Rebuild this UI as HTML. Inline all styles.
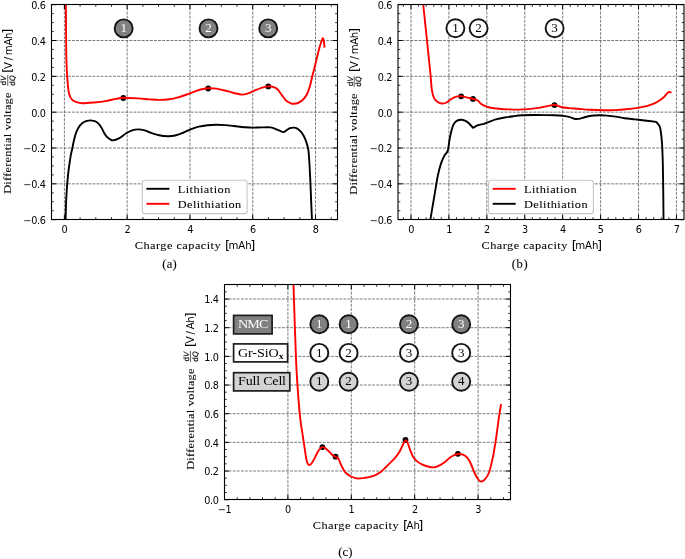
<!DOCTYPE html>
<html lang="en">
<head>
<meta charset="utf-8">
<title>Differential voltage analysis</title>
<style>
html,body{margin:0;padding:0;background:#fff;}
body{width:685px;height:559px;overflow:hidden;}
svg text{white-space:pre;}
</style>
</head>
<body>
<svg width="685" height="559" viewBox="0 0 685 559" style="display:block">
<rect width="685" height="559" fill="#fff"/>
<defs><clipPath id="c1"><rect x="51.5" y="4.5" width="286" height="215"/></clipPath><clipPath id="c2"><rect x="398" y="4.5" width="286" height="215"/></clipPath><clipPath id="c3"><rect x="224.5" y="284.5" width="286" height="215"/></clipPath></defs>
<g id="plot-a">
<path d="M64.4 219.5V4.5M127.18 219.5V4.5M189.96 219.5V4.5M252.74 219.5V4.5M315.52 219.5V4.5M51.5 183.84H337.5M51.5 148H337.5M51.5 112.17H337.5M51.5 76.34H337.5M51.5 40.5H337.5" fill="none" stroke="#626262" stroke-width="0.85" stroke-dasharray="2.85 1.25"/>
<g clip-path="url(#c1)" fill="none" stroke-linejoin="round" stroke-linecap="butt">
<path d="M65.2 240C65.27 236.47 65.4 226.17 65.6 218.8C65.8 211.43 65.98 203.2 66.4 195.8C66.82 188.4 67.4 180.98 68.1 174.4C68.8 167.82 69.95 160.4 70.6 156.3C71.25 152.2 71.58 151.8 72 149.8C72.42 147.8 72.67 146.32 73.1 144.3C73.53 142.28 74.05 139.77 74.6 137.7C75.15 135.63 75.73 133.6 76.4 131.9C77.07 130.2 77.8 128.78 78.6 127.5C79.4 126.22 80.28 125.12 81.2 124.2C82.12 123.28 83.13 122.55 84.1 122C85.07 121.45 85.97 121.17 87 120.9C88.03 120.63 89.2 120.4 90.3 120.4C91.4 120.4 92.57 120.63 93.6 120.9C94.63 121.17 95.53 121.38 96.5 122C97.47 122.62 98.48 123.5 99.4 124.6C100.32 125.7 101.2 127.2 102 128.6C102.8 130 103.42 131.67 104.2 133C104.98 134.33 105.73 135.57 106.7 136.6C107.67 137.63 108.95 138.57 110 139.2C111.05 139.83 111.52 140.53 113 140.4C114.48 140.27 116.7 139.58 118.9 138.4C121.1 137.22 124 134.63 126.2 133.3C128.4 131.97 130.13 131.05 132.1 130.4C134.07 129.75 136.05 129.45 138 129.4C139.95 129.35 142 129.67 143.8 130.1C145.6 130.53 146.25 131.15 148.8 132C151.35 132.85 155.92 134.5 159.1 135.2C162.28 135.9 165.22 136.15 167.9 136.2C170.58 136.25 172.77 136.03 175.2 135.5C177.63 134.97 180.05 133.98 182.5 133C184.95 132.02 187.2 130.65 189.9 129.6C192.6 128.55 195.78 127.43 198.7 126.7C201.62 125.97 204.48 125.53 207.4 125.2C210.32 124.87 213.27 124.72 216.2 124.7C219.13 124.68 222.07 124.88 225 125.1C227.93 125.32 230.67 125.65 233.8 126C236.93 126.35 242.13 127 243.8 127.2C245.27 127.27 249.67 127.57 252.6 127.6C255.53 127.63 258.47 127.43 261.4 127.4C264.33 127.37 268 127.2 270.2 127.4C272.4 127.6 273.13 128.1 274.6 128.6C276.07 129.1 277.48 129.82 279 130.4C280.52 130.98 282.48 132.1 283.7 132.1C284.92 132.1 285.25 131.05 286.3 130.4C287.35 129.75 288.77 128.67 290 128.2C291.23 127.73 292.48 127.53 293.7 127.6C294.92 127.67 296.08 127.9 297.3 128.6C298.52 129.3 299.9 130.53 301 131.8C302.1 133.07 303.05 134.6 303.9 136.2C304.75 137.8 305.37 139.15 306.1 141.4C306.83 143.65 307.75 146.12 308.3 149.7C308.85 153.28 309.05 157.42 309.4 162.9C309.75 168.38 310.1 176.02 310.4 182.6C310.7 189.18 310.95 196.37 311.2 202.4C311.45 208.43 311.67 212.53 311.9 218.8C312.13 225.07 312.48 236.47 312.6 240" stroke="#000" stroke-width="1.9"/>
<circle cx="123.3" cy="98" r="2.9" fill="#000" stroke="none"/>
<circle cx="208.2" cy="88.5" r="2.9" fill="#000" stroke="none"/>
<circle cx="268.3" cy="86.4" r="2.9" fill="#000" stroke="none"/>
<path d="M65.6 -20C65.67 -13.33 65.87 6.67 66 20C66.13 33.33 66.13 49.67 66.4 60C66.67 70.33 67.15 76.38 67.6 82C68.05 87.62 68.37 90.77 69.1 93.7C69.83 96.63 70.78 98.18 72 99.6C73.22 101.02 74.68 101.58 76.4 102.2C78.12 102.82 79.37 103.25 82.3 103.3C85.23 103.35 90.1 102.87 94 102.5C97.9 102.13 102.03 101.7 105.7 101.1C109.37 100.5 113.07 99.45 116 98.9C118.93 98.35 119.63 97.88 123.3 97.8C126.97 97.72 133.6 98.13 138 98.4C142.4 98.67 146.18 99.15 149.7 99.4C153.22 99.65 155.83 99.92 159.1 99.9C162.37 99.88 166.13 99.72 169.3 99.3C172.47 98.88 175.17 98.2 178.1 97.4C181.03 96.6 183.97 95.55 186.9 94.5C189.83 93.45 193.02 92.02 195.7 91.1C198.38 90.18 200.8 89.47 203 89C205.2 88.53 206.7 88.37 208.9 88.3C211.1 88.23 213.52 88.23 216.2 88.6C218.88 88.97 222.07 89.77 225 90.5C227.93 91.23 230.92 92.32 233.8 93C236.68 93.68 239.9 94.53 242.3 94.6C244.7 94.67 246.23 94.03 248.2 93.4C250.17 92.77 251.9 91.72 254.1 90.8C256.3 89.88 259.08 88.63 261.4 87.9C263.72 87.17 266.05 86.58 268 86.4C269.95 86.22 271.52 86.32 273.1 86.8C274.68 87.28 276.03 87.9 277.5 89.3C278.97 90.7 280.43 93.28 281.9 95.2C283.37 97.12 284.83 99.45 286.3 100.8C287.77 102.15 289.47 102.8 290.7 103.3C291.93 103.8 292.48 103.85 293.7 103.8C294.92 103.75 296.55 103.58 298 103C299.45 102.42 300.93 101.72 302.4 100.3C303.87 98.88 305.57 96.82 306.8 94.5C308.03 92.18 308.82 89.7 309.8 86.4C310.78 83.1 311.97 77.6 312.7 74.7C313.43 71.8 313.55 71.62 314.2 69C314.85 66.38 315.78 62.35 316.6 59C317.42 55.65 318.37 51.62 319.1 48.9C319.83 46.18 320.48 44.3 321 42.7C321.52 41.1 321.85 40.03 322.2 39.3C322.55 38.57 322.82 37.95 323.1 38.3C323.38 38.65 323.67 39.83 323.9 41.4C324.13 42.97 324.4 46.65 324.5 47.7" stroke="#ff0000" stroke-width="1.9"/>
</g>
<path d="M64.4 219.5v-4.6M64.4 4.5v4.6M127.18 219.5v-4.6M127.18 4.5v4.6M189.96 219.5v-4.6M189.96 4.5v4.6M252.74 219.5v-4.6M252.74 4.5v4.6M315.52 219.5v-4.6M315.52 4.5v4.6M51.5 219.67h4.6M337.5 219.67h-4.6M51.5 183.84h4.6M337.5 183.84h-4.6M51.5 148h4.6M337.5 148h-4.6M51.5 112.17h4.6M337.5 112.17h-4.6M51.5 76.34h4.6M337.5 76.34h-4.6M51.5 40.5h4.6M337.5 40.5h-4.6M51.5 4.67h4.6M337.5 4.67h-4.6" fill="none" stroke="#000" stroke-width="1.0"/>
<path d="M80.09 219.5v-2.3M80.09 4.5v2.3M95.79 219.5v-2.3M95.79 4.5v2.3M111.49 219.5v-2.3M111.49 4.5v2.3M142.88 219.5v-2.3M142.88 4.5v2.3M158.57 219.5v-2.3M158.57 4.5v2.3M174.27 219.5v-2.3M174.27 4.5v2.3M205.66 219.5v-2.3M205.66 4.5v2.3M221.35 219.5v-2.3M221.35 4.5v2.3M237.05 219.5v-2.3M237.05 4.5v2.3M268.44 219.5v-2.3M268.44 4.5v2.3M284.13 219.5v-2.3M284.13 4.5v2.3M299.83 219.5v-2.3M299.83 4.5v2.3M331.22 219.5v-2.3M331.22 4.5v2.3M51.5 210.71h2.3M337.5 210.71h-2.3M51.5 201.75h2.3M337.5 201.75h-2.3M51.5 192.8h2.3M337.5 192.8h-2.3M51.5 174.88h2.3M337.5 174.88h-2.3M51.5 165.92h2.3M337.5 165.92h-2.3M51.5 156.96h2.3M337.5 156.96h-2.3M51.5 139.05h2.3M337.5 139.05h-2.3M51.5 130.09h2.3M337.5 130.09h-2.3M51.5 121.13h2.3M337.5 121.13h-2.3M51.5 103.21h2.3M337.5 103.21h-2.3M51.5 94.25h2.3M337.5 94.25h-2.3M51.5 85.29h2.3M337.5 85.29h-2.3M51.5 67.38h2.3M337.5 67.38h-2.3M51.5 58.42h2.3M337.5 58.42h-2.3M51.5 49.46h2.3M337.5 49.46h-2.3M51.5 31.54h2.3M337.5 31.54h-2.3M51.5 22.59h2.3M337.5 22.59h-2.3M51.5 13.63h2.3M337.5 13.63h-2.3" fill="none" stroke="#000" stroke-width="0.8"/>
<rect x="51.5" y="4.5" width="286" height="215" fill="none" stroke="#000" stroke-width="1.1"/>
<g font-family='"DejaVu Sans", "Liberation Sans", sans-serif' font-size="9.7" fill="#000" letter-spacing="-0.3"><text x="64.55" y="233" text-anchor="middle">0</text><text x="127.33" y="233" text-anchor="middle">2</text><text x="190.11" y="233" text-anchor="middle">4</text><text x="252.89" y="233" text-anchor="middle">6</text><text x="315.67" y="233" text-anchor="middle">8</text><text x="45.7" y="224" text-anchor="end">−0.6</text><text x="45.7" y="188" text-anchor="end">−0.4</text><text x="45.7" y="152" text-anchor="end">−0.2</text><text x="45.7" y="117" text-anchor="end">0.0</text><text x="45.7" y="81" text-anchor="end">0.2</text><text x="45.7" y="45" text-anchor="end">0.4</text><text x="45.7" y="9" text-anchor="end">0.6</text></g>
<circle cx="123.65" cy="28.4" r="9.0" fill="#808080" stroke="#151515" stroke-width="1.9"/><text transform="translate(123.65 32)" text-anchor="middle" font-family='"Liberation Serif", "DejaVu Serif", serif' font-size="13" fill="#fff">1</text>
<circle cx="208.5" cy="28.4" r="9.0" fill="#808080" stroke="#151515" stroke-width="1.9"/><text transform="translate(208.5 32)" text-anchor="middle" font-family='"Liberation Serif", "DejaVu Serif", serif' font-size="13" fill="#fff">2</text>
<circle cx="268.2" cy="28.4" r="9.0" fill="#808080" stroke="#151515" stroke-width="1.9"/><text transform="translate(268.2 32)" text-anchor="middle" font-family='"Liberation Serif", "DejaVu Serif", serif' font-size="13" fill="#fff">3</text>
<rect x="142.3" y="180.3" width="104.8" height="33.3" rx="2.6" fill="#fff" stroke="#c6c6c6" stroke-width="1.1"/><path d="M146.4 188.8h23" stroke="#000" stroke-width="1.9"/><text transform="translate(177.7 192.5) scale(1.1 1)" font-family='"Liberation Serif", "DejaVu Serif", serif' font-size="11.2" textLength="47.82" lengthAdjust="spacing" fill="#000" stroke="#000" stroke-width="0.07">Lithiation</text><path d="M146.4 203.8h23" stroke="#ff0000" stroke-width="1.9"/><text transform="translate(177.7 207.5) scale(1.1 1)" font-family='"Liberation Serif", "DejaVu Serif", serif' font-size="11.2" textLength="57.82" lengthAdjust="spacing" fill="#000" stroke="#000" stroke-width="0.07">Delithiation</text>
<g transform="translate(10.9 193.8) rotate(-90)"><text transform="translate(0 0) scale(1.1 1)" font-family='"Liberation Serif", "DejaVu Serif", serif' font-size="11.2" textLength="92.09" lengthAdjust="spacing" fill="#000" stroke="#000" stroke-width="0.07">Differential voltage</text><g font-family='"DejaVu Sans", "Liberation Sans", sans-serif' font-size="7.4" fill="#000" stroke="#111" stroke-width="0.15" text-anchor="middle"><text x="113.3" y="-4.45">d<tspan font-style="italic">V</tspan></text><text x="113.3" y="3.9">d<tspan font-style="italic">Q</tspan></text></g><path d="M107.7 -3.15h11.2" stroke="#222" stroke-width="0.7"/><text x="121.6" y="0.6" font-family='"DejaVu Sans", "Liberation Sans", sans-serif' font-size="10.2" fill="#000"><tspan font-size="13" dy="0.7" dx="-0.6">[</tspan><tspan dy="-0.7" dx="-1.3" letter-spacing="-0.35">V</tspan><tspan dx="2.1">/</tspan><tspan dx="1.7" letter-spacing="-0.35">mAh</tspan><tspan font-size="13" dy="0.7" dx="-0.9">]</tspan></text></g>
<text transform="translate(134.85 248.7) scale(1.1 1)" font-family='"Liberation Serif", "DejaVu Serif", serif' font-size="11.2" textLength="78" lengthAdjust="spacing" fill="#000" stroke="#000" stroke-width="0.07">Charge capacity</text><text x="225.55" y="248.8" font-family='"DejaVu Sans", "Liberation Sans", sans-serif' font-size="10.2" fill="#000"><tspan font-size="13" dy="0.7" dx="-0.6">[</tspan><tspan dy="-0.7" dx="-1.6">mAh</tspan><tspan font-size="13" dy="0.7" dx="-1.5">]</tspan></text>
<text transform="translate(162.3 268.4) scale(1.1 1)" font-family='"Liberation Serif", "DejaVu Serif", serif' font-size="11.5" textLength="13.09" lengthAdjust="spacing" fill="#000" stroke="#000" stroke-width="0.07">(a)</text>
</g>
<g id="plot-b">
<path d="M411 219.5V4.5M448.92 219.5V4.5M486.84 219.5V4.5M524.76 219.5V4.5M562.68 219.5V4.5M600.6 219.5V4.5M638.52 219.5V4.5M676.44 219.5V4.5M398 183.84H684M398 148H684M398 112.17H684M398 76.34H684M398 40.5H684" fill="none" stroke="#626262" stroke-width="0.85" stroke-dasharray="2.85 1.25"/>
<g clip-path="url(#c2)" fill="none" stroke-linejoin="round" stroke-linecap="butt">
<path d="M427 240C427.58 236.47 429.5 224.8 430.5 218.8C431.5 212.8 432.17 208.93 433 204C433.83 199.07 434.68 194 435.5 189.2C436.32 184.4 436.95 179.58 437.9 175.2C438.85 170.82 440.1 166.18 441.2 162.9C442.3 159.62 443.4 157.55 444.5 155.5C445.6 153.45 446.97 153.2 447.8 150.6C448.63 148 448.9 143.17 449.5 139.9C450.1 136.63 450.78 133.45 451.4 131C452.02 128.55 452.42 126.82 453.2 125.2C453.98 123.58 454.88 122.2 456.1 121.3C457.32 120.4 459.03 119.92 460.5 119.8C461.97 119.68 463.55 120.07 464.9 120.6C466.25 121.13 467.25 121.78 468.6 123C469.95 124.22 472.27 127.08 473 127.9C473.85 127.45 476.27 125.88 478.1 125.2C479.93 124.52 482.05 124.4 484 123.8C485.95 123.2 487.82 122.33 489.8 121.6C491.78 120.87 493.42 120.08 495.9 119.4C498.38 118.72 501.77 118.03 504.7 117.5C507.63 116.97 510.57 116.57 513.5 116.2C516.43 115.83 518.88 115.5 522.3 115.3C525.72 115.1 530.1 115.03 534 115C537.9 114.97 542.28 115.05 545.7 115.1C549.12 115.15 551.57 115.17 554.5 115.3C557.43 115.43 560.85 115.63 563.3 115.9C565.75 116.17 567.37 116.43 569.2 116.9C571.03 117.37 572.83 118.37 574.3 118.7C575.77 119.03 576.65 119.03 578 118.9C579.35 118.77 580.45 118.38 582.4 117.9C584.35 117.42 586.82 116.43 589.7 116C592.58 115.57 596.82 115.37 599.7 115.3C602.58 115.23 604.32 115.38 607 115.6C609.68 115.82 612.87 116.17 615.8 116.6C618.73 117.03 621.42 117.73 624.6 118.2C627.78 118.67 631.23 118.98 634.9 119.4C638.57 119.82 643.07 120.28 646.6 120.7C650.13 121.12 654.52 121.7 656.1 121.9C656.58 122.45 658.27 123.93 659 125.2C659.73 126.47 660 126.5 660.5 129.5C661 132.5 661.62 137.63 662 143.2C662.38 148.77 662.58 154.13 662.8 162.9C663.02 171.67 663.18 186.48 663.3 195.8C663.42 205.12 663.45 211.43 663.5 218.8C663.55 226.17 663.58 236.47 663.6 240" stroke="#000" stroke-width="1.9"/>
<circle cx="461.2" cy="96.3" r="2.9" fill="#000" stroke="none"/>
<circle cx="473" cy="98.9" r="2.9" fill="#000" stroke="none"/>
<circle cx="554.5" cy="105.1" r="2.9" fill="#000" stroke="none"/>
<path d="M421 -17C421.38 -13.32 421.97 -7.73 423.3 5.1C424.63 17.93 427.8 48.4 429 60C430.2 71.6 430.07 70.05 430.5 74.7C430.93 79.35 431.18 84.48 431.6 87.9C432.02 91.32 432.38 93.2 433 95.2C433.62 97.2 434.25 98.63 435.3 99.9C436.35 101.17 438.03 102.2 439.3 102.8C440.57 103.4 441.68 103.55 442.9 103.5C444.12 103.45 445.25 103.2 446.6 102.5C447.95 101.8 449.53 100.23 451 99.3C452.47 98.37 453.7 97.43 455.4 96.9C457.1 96.37 459.37 96.02 461.2 96.1C463.03 96.18 464.43 96.93 466.4 97.4C468.37 97.87 471.17 98.42 473 98.9C474.83 99.38 476.07 99.5 477.4 100.3C478.73 101.1 479.67 102.72 481 103.7C482.33 104.68 483.8 105.53 485.4 106.2C487 106.87 488.37 107.28 490.6 107.7C492.83 108.12 495.72 108.42 498.8 108.7C501.88 108.98 505.68 109.25 509.1 109.4C512.52 109.55 516.13 109.65 519.3 109.6C522.47 109.55 525.17 109.35 528.1 109.1C531.03 108.85 533.97 108.53 536.9 108.1C539.83 107.67 543.25 106.98 545.7 106.5C548.15 106.02 550.13 105.5 551.6 105.2C553.07 104.9 553.53 104.62 554.5 104.7C555.47 104.78 556.18 105.28 557.4 105.7C558.62 106.12 559.83 106.8 561.8 107.2C563.77 107.6 566.5 107.83 569.2 108.1C571.9 108.37 574.58 108.52 578 108.8C581.42 109.08 585.35 109.55 589.7 109.8C594.05 110.05 600 110.25 604.1 110.3C608.2 110.35 610.63 110.27 614.3 110.1C617.97 109.93 622.18 109.67 626.1 109.3C630.02 108.93 634.38 108.42 637.8 107.9C641.22 107.38 643.92 106.9 646.6 106.2C649.28 105.5 651.7 104.68 653.9 103.7C656.1 102.72 658.08 101.47 659.8 100.3C661.52 99.13 662.98 97.85 664.2 96.7C665.42 95.55 666.25 94.18 667.1 93.4C667.95 92.62 668.57 92.12 669.3 92C670.03 91.88 671.13 92.58 671.5 92.7" stroke="#ff0000" stroke-width="1.9"/>
</g>
<path d="M411 219.5v-4.6M411 4.5v4.6M448.92 219.5v-4.6M448.92 4.5v4.6M486.84 219.5v-4.6M486.84 4.5v4.6M524.76 219.5v-4.6M524.76 4.5v4.6M562.68 219.5v-4.6M562.68 4.5v4.6M600.6 219.5v-4.6M600.6 4.5v4.6M638.52 219.5v-4.6M638.52 4.5v4.6M676.44 219.5v-4.6M676.44 4.5v4.6M398 219.67h4.6M684 219.67h-4.6M398 183.84h4.6M684 183.84h-4.6M398 148h4.6M684 148h-4.6M398 112.17h4.6M684 112.17h-4.6M398 76.34h4.6M684 76.34h-4.6M398 40.5h4.6M684 40.5h-4.6M398 4.67h4.6M684 4.67h-4.6" fill="none" stroke="#000" stroke-width="1.0"/>
<path d="M403.42 219.5v-2.3M403.42 4.5v2.3M418.58 219.5v-2.3M418.58 4.5v2.3M426.17 219.5v-2.3M426.17 4.5v2.3M433.75 219.5v-2.3M433.75 4.5v2.3M441.34 219.5v-2.3M441.34 4.5v2.3M456.5 219.5v-2.3M456.5 4.5v2.3M464.09 219.5v-2.3M464.09 4.5v2.3M471.67 219.5v-2.3M471.67 4.5v2.3M479.26 219.5v-2.3M479.26 4.5v2.3M494.42 219.5v-2.3M494.42 4.5v2.3M502.01 219.5v-2.3M502.01 4.5v2.3M509.59 219.5v-2.3M509.59 4.5v2.3M517.18 219.5v-2.3M517.18 4.5v2.3M532.34 219.5v-2.3M532.34 4.5v2.3M539.93 219.5v-2.3M539.93 4.5v2.3M547.51 219.5v-2.3M547.51 4.5v2.3M555.1 219.5v-2.3M555.1 4.5v2.3M570.26 219.5v-2.3M570.26 4.5v2.3M577.85 219.5v-2.3M577.85 4.5v2.3M585.43 219.5v-2.3M585.43 4.5v2.3M593.02 219.5v-2.3M593.02 4.5v2.3M608.18 219.5v-2.3M608.18 4.5v2.3M615.77 219.5v-2.3M615.77 4.5v2.3M623.35 219.5v-2.3M623.35 4.5v2.3M630.94 219.5v-2.3M630.94 4.5v2.3M646.1 219.5v-2.3M646.1 4.5v2.3M653.69 219.5v-2.3M653.69 4.5v2.3M661.27 219.5v-2.3M661.27 4.5v2.3M668.86 219.5v-2.3M668.86 4.5v2.3M398 210.71h2.3M684 210.71h-2.3M398 201.75h2.3M684 201.75h-2.3M398 192.8h2.3M684 192.8h-2.3M398 174.88h2.3M684 174.88h-2.3M398 165.92h2.3M684 165.92h-2.3M398 156.96h2.3M684 156.96h-2.3M398 139.05h2.3M684 139.05h-2.3M398 130.09h2.3M684 130.09h-2.3M398 121.13h2.3M684 121.13h-2.3M398 103.21h2.3M684 103.21h-2.3M398 94.25h2.3M684 94.25h-2.3M398 85.29h2.3M684 85.29h-2.3M398 67.38h2.3M684 67.38h-2.3M398 58.42h2.3M684 58.42h-2.3M398 49.46h2.3M684 49.46h-2.3M398 31.54h2.3M684 31.54h-2.3M398 22.59h2.3M684 22.59h-2.3M398 13.63h2.3M684 13.63h-2.3" fill="none" stroke="#000" stroke-width="0.8"/>
<rect x="398" y="4.5" width="286" height="215" fill="none" stroke="#000" stroke-width="1.1"/>
<g font-family='"DejaVu Sans", "Liberation Sans", sans-serif' font-size="9.7" fill="#000" letter-spacing="-0.3"><text x="411.15" y="233" text-anchor="middle">0</text><text x="449.07" y="233" text-anchor="middle">1</text><text x="486.99" y="233" text-anchor="middle">2</text><text x="524.91" y="233" text-anchor="middle">3</text><text x="562.83" y="233" text-anchor="middle">4</text><text x="600.75" y="233" text-anchor="middle">5</text><text x="638.67" y="233" text-anchor="middle">6</text><text x="676.59" y="233" text-anchor="middle">7</text><text x="392.2" y="224" text-anchor="end">−0.6</text><text x="392.2" y="188" text-anchor="end">−0.4</text><text x="392.2" y="152" text-anchor="end">−0.2</text><text x="392.2" y="117" text-anchor="end">0.0</text><text x="392.2" y="81" text-anchor="end">0.2</text><text x="392.2" y="45" text-anchor="end">0.4</text><text x="392.2" y="9" text-anchor="end">0.6</text></g>
<circle cx="455.4" cy="28.2" r="9.0" fill="#fff" stroke="#151515" stroke-width="1.9"/><text transform="translate(455.4 32)" text-anchor="middle" font-family='"Liberation Serif", "DejaVu Serif", serif' font-size="13" fill="#000">1</text>
<circle cx="478.6" cy="28.2" r="9.0" fill="#fff" stroke="#151515" stroke-width="1.9"/><text transform="translate(478.6 32)" text-anchor="middle" font-family='"Liberation Serif", "DejaVu Serif", serif' font-size="13" fill="#000">2</text>
<circle cx="554.6" cy="28.2" r="9.0" fill="#fff" stroke="#151515" stroke-width="1.9"/><text transform="translate(554.6 32)" text-anchor="middle" font-family='"Liberation Serif", "DejaVu Serif", serif' font-size="13" fill="#000">3</text>
<rect x="488.6" y="180.3" width="104.8" height="33.3" rx="2.6" fill="#fff" stroke="#c6c6c6" stroke-width="1.1"/><path d="M492.7 188.8h23" stroke="#ff0000" stroke-width="1.9"/><text transform="translate(524 192.5) scale(1.1 1)" font-family='"Liberation Serif", "DejaVu Serif", serif' font-size="11.2" textLength="47.82" lengthAdjust="spacing" fill="#000" stroke="#000" stroke-width="0.07">Lithiation</text><path d="M492.7 203.8h23" stroke="#000" stroke-width="1.9"/><text transform="translate(524 207.5) scale(1.1 1)" font-family='"Liberation Serif", "DejaVu Serif", serif' font-size="11.2" textLength="57.82" lengthAdjust="spacing" fill="#000" stroke="#000" stroke-width="0.07">Delithiation</text>
<g transform="translate(357.4 194.7) rotate(-90)"><text transform="translate(0 0) scale(1.1 1)" font-family='"Liberation Serif", "DejaVu Serif", serif' font-size="11.2" textLength="92.09" lengthAdjust="spacing" fill="#000" stroke="#000" stroke-width="0.07">Differential voltage</text><g font-family='"DejaVu Sans", "Liberation Sans", sans-serif' font-size="7.4" fill="#000" stroke="#111" stroke-width="0.15" text-anchor="middle"><text x="113.3" y="-4.45">d<tspan font-style="italic">V</tspan></text><text x="113.3" y="3.9">d<tspan font-style="italic">Q</tspan></text></g><path d="M107.7 -3.15h11.2" stroke="#222" stroke-width="0.7"/><text x="123.3" y="0.6" font-family='"DejaVu Sans", "Liberation Sans", sans-serif' font-size="10.2" fill="#000"><tspan font-size="13" dy="0.7" dx="-0.6">[</tspan><tspan dy="-0.7" dx="-1.3" letter-spacing="-0.35">V</tspan><tspan dx="2.1">/</tspan><tspan dx="1.7" letter-spacing="-0.35">mAh</tspan><tspan font-size="13" dy="0.7" dx="-0.9">]</tspan></text></g>
<text transform="translate(481.55 248.7) scale(1.1 1)" font-family='"Liberation Serif", "DejaVu Serif", serif' font-size="11.2" textLength="78" lengthAdjust="spacing" fill="#000" stroke="#000" stroke-width="0.07">Charge capacity</text><text x="572.25" y="248.8" font-family='"DejaVu Sans", "Liberation Sans", sans-serif' font-size="10.2" fill="#000"><tspan font-size="13" dy="0.7" dx="-0.6">[</tspan><tspan dy="-0.7" dx="-1.6">mAh</tspan><tspan font-size="13" dy="0.7" dx="-1.5">]</tspan></text>
<text transform="translate(511.7 268.4) scale(1.1 1)" font-family='"Liberation Serif", "DejaVu Serif", serif' font-size="11.5" textLength="14.55" lengthAdjust="spacing" fill="#000" stroke="#000" stroke-width="0.07">(b)</text>
</g>
<g id="plot-c">
<path d="M287.9 499.5V284.5M351.3 499.5V284.5M414.7 499.5V284.5M478.1 499.5V284.5M224.5 471.03H510.5M224.5 442.37H510.5M224.5 413.7H510.5M224.5 385.04H510.5M224.5 356.37H510.5M224.5 327.7H510.5M224.5 299.04H510.5" fill="none" stroke="#626262" stroke-width="0.85" stroke-dasharray="2.85 1.25"/>
<g clip-path="url(#c3)" fill="none" stroke-linejoin="round" stroke-linecap="butt">
<circle cx="322.4" cy="447.1" r="2.9" fill="#000" stroke="none"/>
<circle cx="335.6" cy="456.7" r="2.9" fill="#000" stroke="none"/>
<circle cx="405.5" cy="439.9" r="2.9" fill="#000" stroke="none"/>
<circle cx="457.9" cy="453.8" r="2.9" fill="#000" stroke="none"/>
<path d="M292.8 265C292.92 268.35 292.95 269.03 293.5 285.1C294.05 301.17 295.27 342.35 296.1 361.4C296.93 380.45 297.78 389.63 298.5 399.4C299.22 409.17 299.72 414.12 300.4 420C301.08 425.88 301.87 429.82 302.6 434.7C303.33 439.58 304.18 445.27 304.8 449.3C305.42 453.33 305.82 456.5 306.3 458.9C306.78 461.3 307.22 462.68 307.7 463.7C308.18 464.72 308.58 465 309.2 465C309.82 465 310.55 464.72 311.4 463.7C312.25 462.68 313.2 460.93 314.3 458.9C315.4 456.87 316.9 453.33 318 451.5C319.1 449.67 320.1 448.63 320.9 447.9C321.7 447.17 322.07 447.05 322.8 447.1C323.53 447.15 324.27 447.47 325.3 448.2C326.33 448.93 327.77 450.33 329 451.5C330.23 452.67 331.6 454.33 332.7 455.2C333.8 456.07 334.63 456.08 335.6 456.7C336.57 457.32 337.65 457.68 338.5 458.9C339.35 460.12 339.83 462.17 340.7 464C341.57 465.83 342.72 468.32 343.7 469.9C344.68 471.48 345.38 472.4 346.6 473.5C347.82 474.6 349.53 475.73 351 476.5C352.47 477.27 354.18 477.77 355.4 478.1C356.62 478.43 356.83 478.53 358.3 478.5C359.77 478.47 362.25 478.17 364.2 477.9C366.15 477.63 368.05 477.42 370 476.9C371.95 476.38 374.13 475.6 375.9 474.8C377.67 474 379.03 473.28 380.6 472.1C382.17 470.92 383.78 469.17 385.3 467.7C386.82 466.23 388 465.02 389.7 463.3C391.4 461.58 393.92 459.23 395.5 457.4C397.08 455.57 398.1 454.13 399.2 452.3C400.3 450.47 401.25 448.12 402.1 446.4C402.95 444.68 403.68 443.03 404.3 442C404.92 440.97 405.25 440.08 405.8 440.2C406.35 440.32 406.87 441.05 407.6 442.7C408.33 444.35 409.28 447.77 410.2 450.1C411.12 452.43 412 454.87 413.1 456.7C414.2 458.53 415.33 459.82 416.8 461.1C418.27 462.38 420.07 463.5 421.9 464.4C423.73 465.3 425.83 466 427.8 466.5C429.77 467 432 467.45 433.7 467.4C435.4 467.35 436.3 466.97 438 466.2C439.7 465.43 441.93 464.2 443.9 462.8C445.87 461.4 448.08 459.07 449.8 457.8C451.52 456.53 452.73 455.83 454.2 455.2C455.67 454.57 457.13 454.08 458.6 454C460.07 453.92 461.53 454.07 463 454.7C464.47 455.33 466.07 456.25 467.4 457.8C468.73 459.35 469.83 461.55 471 464C472.17 466.45 473.22 469.97 474.4 472.5C475.58 475.03 476.98 477.68 478.1 479.2C479.22 480.72 479.93 481.6 481.1 481.6C482.27 481.6 483.77 480.77 485.1 479.2C486.43 477.63 487.77 476.05 489.1 472.2C490.43 468.35 491.93 461.78 493.1 456.1C494.27 450.42 495.1 444.77 496.1 438.1C497.1 431.43 498.27 421.78 499.1 416.1C499.93 410.42 500.77 406.02 501.1 404" stroke="#ff0000" stroke-width="1.9"/>
</g>
<path d="M224.5 499.5v-4.6M224.5 284.5v4.6M287.9 499.5v-4.6M287.9 284.5v4.6M351.3 499.5v-4.6M351.3 284.5v4.6M414.7 499.5v-4.6M414.7 284.5v4.6M478.1 499.5v-4.6M478.1 284.5v4.6M224.5 499.7h4.6M510.5 499.7h-4.6M224.5 471.03h4.6M510.5 471.03h-4.6M224.5 442.37h4.6M510.5 442.37h-4.6M224.5 413.7h4.6M510.5 413.7h-4.6M224.5 385.04h4.6M510.5 385.04h-4.6M224.5 356.37h4.6M510.5 356.37h-4.6M224.5 327.7h4.6M510.5 327.7h-4.6M224.5 299.04h4.6M510.5 299.04h-4.6" fill="none" stroke="#000" stroke-width="1.0"/>
<path d="M237.18 499.5v-2.3M237.18 284.5v2.3M249.86 499.5v-2.3M249.86 284.5v2.3M262.54 499.5v-2.3M262.54 284.5v2.3M275.22 499.5v-2.3M275.22 284.5v2.3M300.58 499.5v-2.3M300.58 284.5v2.3M313.26 499.5v-2.3M313.26 284.5v2.3M325.94 499.5v-2.3M325.94 284.5v2.3M338.62 499.5v-2.3M338.62 284.5v2.3M363.98 499.5v-2.3M363.98 284.5v2.3M376.66 499.5v-2.3M376.66 284.5v2.3M389.34 499.5v-2.3M389.34 284.5v2.3M402.02 499.5v-2.3M402.02 284.5v2.3M427.38 499.5v-2.3M427.38 284.5v2.3M440.06 499.5v-2.3M440.06 284.5v2.3M452.74 499.5v-2.3M452.74 284.5v2.3M465.42 499.5v-2.3M465.42 284.5v2.3M490.78 499.5v-2.3M490.78 284.5v2.3M503.46 499.5v-2.3M503.46 284.5v2.3M224.5 492.53h2.3M510.5 492.53h-2.3M224.5 485.37h2.3M510.5 485.37h-2.3M224.5 478.2h2.3M510.5 478.2h-2.3M224.5 463.87h2.3M510.5 463.87h-2.3M224.5 456.7h2.3M510.5 456.7h-2.3M224.5 449.53h2.3M510.5 449.53h-2.3M224.5 435.2h2.3M510.5 435.2h-2.3M224.5 428.03h2.3M510.5 428.03h-2.3M224.5 420.87h2.3M510.5 420.87h-2.3M224.5 406.54h2.3M510.5 406.54h-2.3M224.5 399.37h2.3M510.5 399.37h-2.3M224.5 392.2h2.3M510.5 392.2h-2.3M224.5 377.87h2.3M510.5 377.87h-2.3M224.5 370.7h2.3M510.5 370.7h-2.3M224.5 363.54h2.3M510.5 363.54h-2.3M224.5 349.2h2.3M510.5 349.2h-2.3M224.5 342.04h2.3M510.5 342.04h-2.3M224.5 334.87h2.3M510.5 334.87h-2.3M224.5 320.54h2.3M510.5 320.54h-2.3M224.5 313.37h2.3M510.5 313.37h-2.3M224.5 306.2h2.3M510.5 306.2h-2.3M224.5 291.87h2.3M510.5 291.87h-2.3" fill="none" stroke="#000" stroke-width="0.8"/>
<rect x="224.5" y="284.5" width="286" height="215" fill="none" stroke="#000" stroke-width="1.1"/>
<g font-family='"DejaVu Sans", "Liberation Sans", sans-serif' font-size="9.7" fill="#000" letter-spacing="-0.3"><text x="224.65" y="513" text-anchor="middle">−1</text><text x="288.05" y="513" text-anchor="middle">0</text><text x="351.45" y="513" text-anchor="middle">1</text><text x="414.85" y="513" text-anchor="middle">2</text><text x="478.25" y="513" text-anchor="middle">3</text><text x="218.7" y="504" text-anchor="end">0.0</text><text x="218.7" y="475" text-anchor="end">0.2</text><text x="218.7" y="447" text-anchor="end">0.4</text><text x="218.7" y="418" text-anchor="end">0.6</text><text x="218.7" y="389" text-anchor="end">0.8</text><text x="218.7" y="361" text-anchor="end">1.0</text><text x="218.7" y="332" text-anchor="end">1.2</text><text x="218.7" y="303" text-anchor="end">1.4</text></g>
<circle cx="319.3" cy="324.2" r="9.0" fill="#808080" stroke="#151515" stroke-width="1.9"/><text transform="translate(319.3 328)" text-anchor="middle" font-family='"Liberation Serif", "DejaVu Serif", serif' font-size="13" fill="#fff">1</text>
<circle cx="348.6" cy="324.2" r="9.0" fill="#808080" stroke="#151515" stroke-width="1.9"/><text transform="translate(348.6 328)" text-anchor="middle" font-family='"Liberation Serif", "DejaVu Serif", serif' font-size="13" fill="#fff">1</text>
<circle cx="409" cy="324.2" r="9.0" fill="#808080" stroke="#151515" stroke-width="1.9"/><text transform="translate(409 328)" text-anchor="middle" font-family='"Liberation Serif", "DejaVu Serif", serif' font-size="13" fill="#fff">2</text>
<circle cx="461.2" cy="324.2" r="9.0" fill="#808080" stroke="#151515" stroke-width="1.9"/><text transform="translate(461.2 328)" text-anchor="middle" font-family='"Liberation Serif", "DejaVu Serif", serif' font-size="13" fill="#fff">3</text>
<circle cx="319.3" cy="352.9" r="9.0" fill="#fff" stroke="#151515" stroke-width="1.9"/><text transform="translate(319.3 357)" text-anchor="middle" font-family='"Liberation Serif", "DejaVu Serif", serif' font-size="13" fill="#000">1</text>
<circle cx="348.6" cy="352.9" r="9.0" fill="#fff" stroke="#151515" stroke-width="1.9"/><text transform="translate(348.6 357)" text-anchor="middle" font-family='"Liberation Serif", "DejaVu Serif", serif' font-size="13" fill="#000">2</text>
<circle cx="409" cy="352.9" r="9.0" fill="#fff" stroke="#151515" stroke-width="1.9"/><text transform="translate(409 357)" text-anchor="middle" font-family='"Liberation Serif", "DejaVu Serif", serif' font-size="13" fill="#000">3</text>
<circle cx="461.2" cy="352.9" r="9.0" fill="#fff" stroke="#151515" stroke-width="1.9"/><text transform="translate(461.2 357)" text-anchor="middle" font-family='"Liberation Serif", "DejaVu Serif", serif' font-size="13" fill="#000">3</text>
<circle cx="319.3" cy="381.8" r="9.0" fill="#d3d3d3" stroke="#151515" stroke-width="1.9"/><text transform="translate(319.3 385)" text-anchor="middle" font-family='"Liberation Serif", "DejaVu Serif", serif' font-size="13" fill="#000">1</text>
<circle cx="348.6" cy="381.8" r="9.0" fill="#d3d3d3" stroke="#151515" stroke-width="1.9"/><text transform="translate(348.6 385)" text-anchor="middle" font-family='"Liberation Serif", "DejaVu Serif", serif' font-size="13" fill="#000">2</text>
<circle cx="409" cy="381.8" r="9.0" fill="#d3d3d3" stroke="#151515" stroke-width="1.9"/><text transform="translate(409 385)" text-anchor="middle" font-family='"Liberation Serif", "DejaVu Serif", serif' font-size="13" fill="#000">3</text>
<circle cx="461.2" cy="381.8" r="9.0" fill="#d3d3d3" stroke="#151515" stroke-width="1.9"/><text transform="translate(461.2 385)" text-anchor="middle" font-family='"Liberation Serif", "DejaVu Serif", serif' font-size="13" fill="#000">4</text>
<rect x="233.6" y="315.4" width="38.5" height="18.5" fill="#808080" stroke="#1c1c1c" stroke-width="1.7"/><text transform="translate(237.9 328) scale(1.1 1)" font-family='"Liberation Serif", "DejaVu Serif", serif' font-size="12.8" textLength="27.64" lengthAdjust="spacing" fill="#fff">NMC</text>
<rect x="233.6" y="343.9" width="54" height="18" fill="#fff" stroke="#1c1c1c" stroke-width="1.7"/><text transform="translate(237.9 356.6) scale(1.1 1)" font-family='"Liberation Serif", "DejaVu Serif", serif' font-size="12.8" textLength="41.64" lengthAdjust="spacing" fill="#000">Gr-SiO<tspan font-size="9" dy="2.1" font-weight="bold">x</tspan></text>
<rect x="233.6" y="372.7" width="56.2" height="18.2" fill="#d3d3d3" stroke="#1c1c1c" stroke-width="1.7"/><text transform="translate(238.1 385.2) scale(1.1 1)" font-family='"Liberation Serif", "DejaVu Serif", serif' font-size="12.8" textLength="43.55" lengthAdjust="spacing" fill="#000">Full Cell</text>
<g transform="translate(193.6 469.8) rotate(-90)"><text transform="translate(0 0) scale(1.1 1)" font-family='"Liberation Serif", "DejaVu Serif", serif' font-size="11.2" textLength="92.09" lengthAdjust="spacing" fill="#000" stroke="#000" stroke-width="0.07">Differential voltage</text><g font-family='"DejaVu Sans", "Liberation Sans", sans-serif' font-size="7.4" fill="#000" stroke="#111" stroke-width="0.15" text-anchor="middle"><text x="113.3" y="-4.45">d<tspan font-style="italic">V</tspan></text><text x="113.3" y="3.9">d<tspan font-style="italic">Q</tspan></text></g><path d="M107.7 -3.15h11.2" stroke="#222" stroke-width="0.7"/><text x="123.4" y="0.6" font-family='"DejaVu Sans", "Liberation Sans", sans-serif' font-size="10.2" fill="#000"><tspan font-size="13" dy="0.7" dx="-0.6">[</tspan><tspan dy="-0.7" dx="-1.3" letter-spacing="-0.35">V</tspan><tspan dx="2.1">/</tspan><tspan dx="1.7" letter-spacing="-0.35">Ah</tspan><tspan font-size="13" dy="0.7" dx="-0.9">]</tspan></text></g>
<text transform="translate(312.85 529) scale(1.1 1)" font-family='"Liberation Serif", "DejaVu Serif", serif' font-size="11.2" textLength="78" lengthAdjust="spacing" fill="#000" stroke="#000" stroke-width="0.07">Charge capacity</text><text x="403.55" y="529.1" font-family='"DejaVu Sans", "Liberation Sans", sans-serif' font-size="10.2" fill="#000"><tspan font-size="13" dy="0.7" dx="-0.6">[</tspan><tspan dy="-0.7" dx="-1.6">Ah</tspan><tspan font-size="13" dy="0.7" dx="-1.5">]</tspan></text>
<text transform="translate(338.3 555.6) scale(1.1 1)" font-family='"Liberation Serif", "DejaVu Serif", serif' font-size="11.5" textLength="12.91" lengthAdjust="spacing" fill="#000" stroke="#000" stroke-width="0.07">(c)</text>
</g>
</svg>
</body>
</html>
